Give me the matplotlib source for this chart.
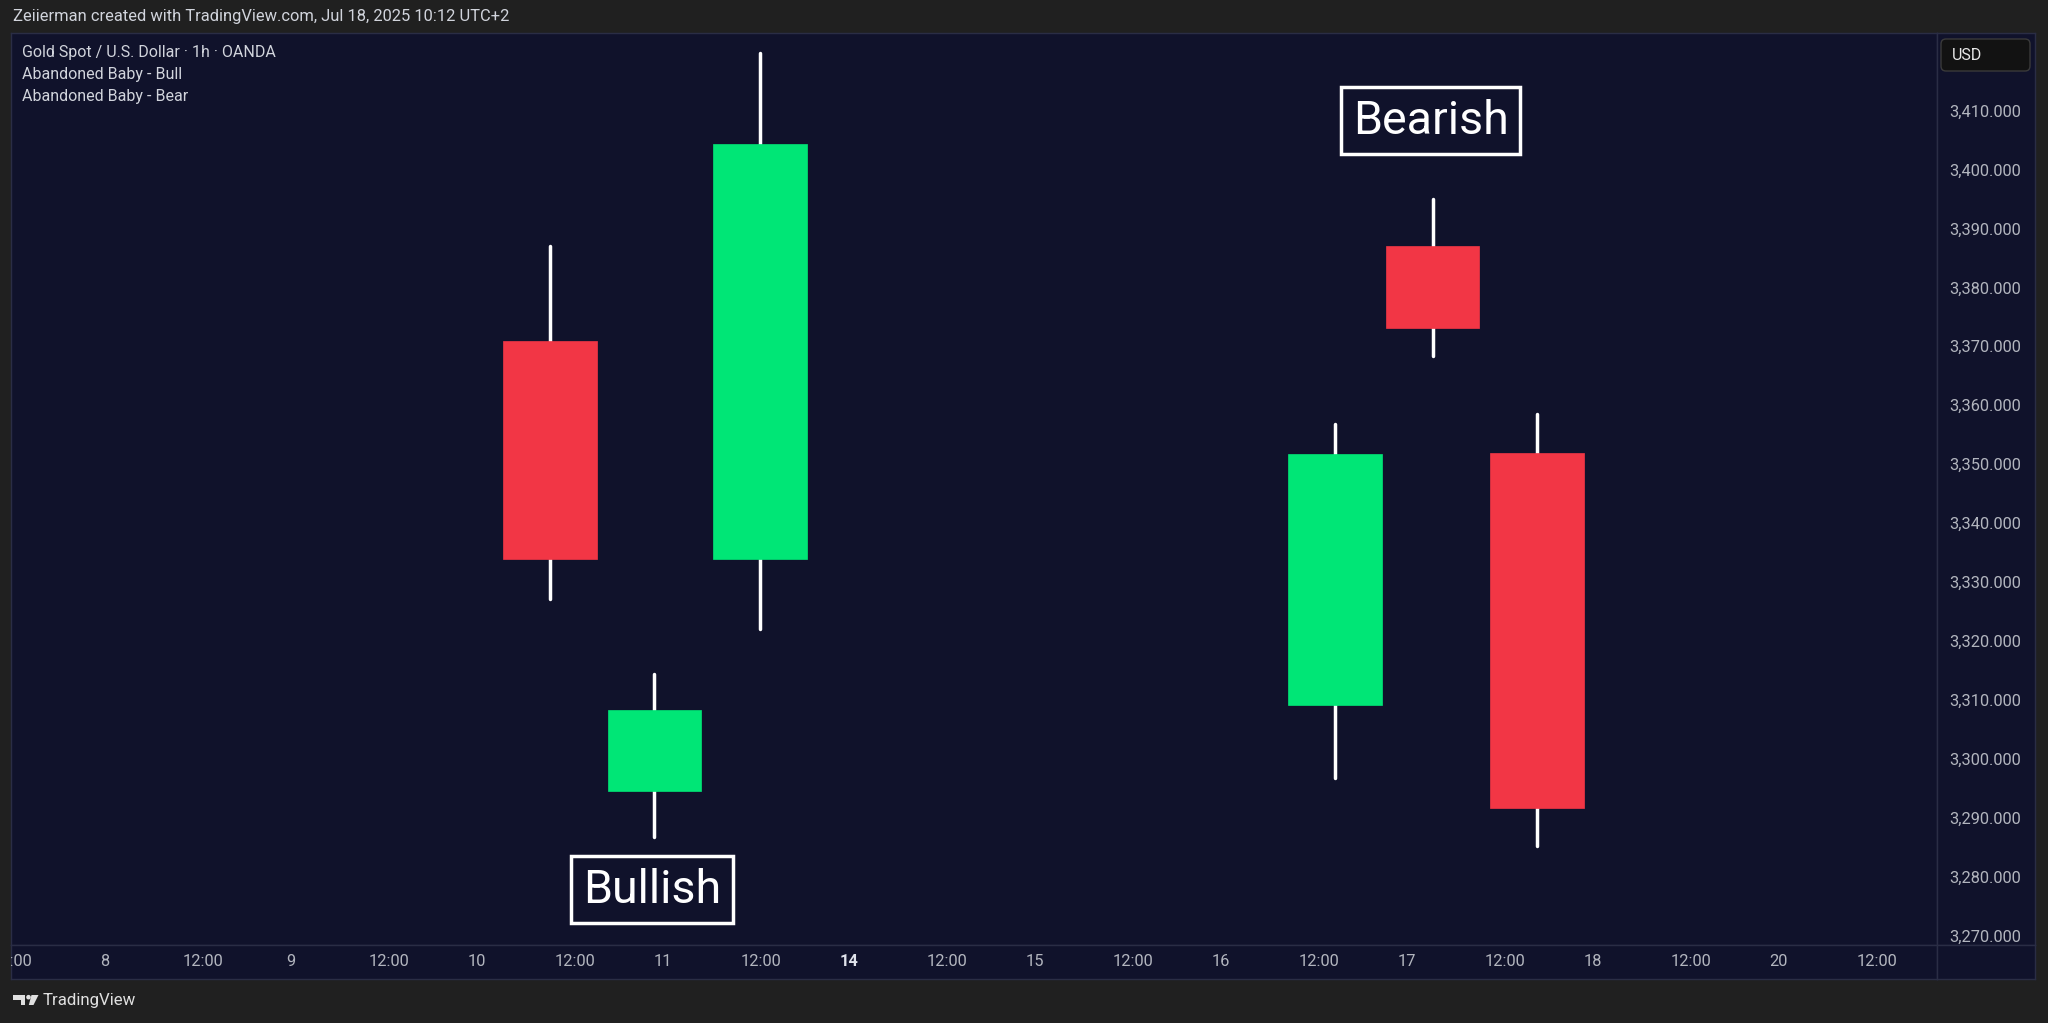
import matplotlib
matplotlib.use("Agg")
import matplotlib.pyplot as plt
from matplotlib.patches import Rectangle, Polygon, Circle, FancyBboxPatch
from matplotlib.transforms import blended_transform_factory, Affine2D

plt.rcParams['font.family'] = ['Roboto', 'DejaVu Sans']

# candle data: x in hours from Jul 8 00:00
hours = [57.4, 70.9, 84.5, 158.7, 171.3, 184.8]
opens = [3371.2, 3294.8, 3334.2, 3309.4, 3387.2, 3352.2]
closes = [3334.2, 3308.5, 3404.5, 3352.0, 3373.4, 3291.9]
highs = [3387.2, 3314.7, 3420.0, 3357.1, 3395.2, 3358.8]
lows = [3327.4, 3287.0, 3322.3, 3297.0, 3368.6, 3285.5]

price_ticks = list(range(3270, 3411, 10))
time_ticks = [-12, 0, 12, 24, 36, 48, 60, 72, 84, 96, 108, 120, 132, 144,
              156, 168, 180, 192, 204, 216, 228]
time_labels = ['12:00', '8', '12:00', '9', '12:00', '10', '12:00', '11', '12:00',
               '14', '12:00', '15', '12:00', '16', '12:00', '17', '12:00', '18',
               '12:00', '20', '12:00']

labels = ['Bullish', 'Bearish']
label_x = [70.6, 171.1]
label_y = [3278.1, 3408.5]

W, H = 2048, 1023
BG = '#202020'
PANEL = '#10122b'
BORDER = '#2a2d45'
GREEN = '#00e676'
RED = '#f23645'
TXT = '#d1d4dc'
AXTXT = '#b2b5be'

fig = plt.figure(figsize=(W / 100, H / 100), dpi=100, facecolor=BG)


def px_axes(x0, y0, x1, y1, **kw):
    a = fig.add_axes([x0 / W, 1 - y1 / H, (x1 - x0) / W, (y1 - y0) / H], **kw)
    a.set_facecolor(PANEL)
    a.set_xticks([])
    a.set_yticks([])
    for s in a.spines.values():
        s.set_color(BORDER)
        s.set_linewidth(1)
    return a


ax = px_axes(11, 33, 1937, 945)
ax_t = px_axes(11, 945, 1937, 979, sharex=ax)
ax_p = px_axes(1937, 33, 2035, 945, sharey=ax)
ax_c = px_axes(1937, 945, 2035, 979)
ax.set_xticks([])
ax.set_yticks([])

ax.set_xlim(-12.14, 236.4)
ax.set_ylim(3268.7, 3423.4)

# candles
for h, o, c, hi, lo in zip(hours, opens, closes, highs, lows):
    col = GREEN if c >= o else RED
    ax.vlines(h, lo, hi, color='white', lw=2.5, capstyle='round', zorder=2)
    ax.bar(h, abs(c - o), bottom=min(o, c), width=12.1, color=col,
           edgecolor=col, linewidth=0.5, zorder=3)

for lab, x, y in zip(labels, label_x, label_y):
    ax.text(x, y, lab, ha='center', va='center', fontsize=33.5, color='white', zorder=5,
            bbox=dict(boxstyle='square,pad=0.25', fc=PANEL, ec='white', lw=2.5))

# price scale
tp = blended_transform_factory(ax_p.transAxes, ax_p.transData)
for p in price_ticks:
    ax_p.text(0.86, p, f'{p:,.3f}', transform=tp, ha='right', va='center',
              fontsize=11.8, color=AXTXT)

# time scale (the 12:00 labels sit a little right of the tick in the reference)
tt = blended_transform_factory(ax_t.transData, ax_t.transAxes)
for t, lab in zip(time_ticks, time_labels):
    bold = lab == '14'
    shift = 0.6 if (lab == '12:00' and t > 0) else 0
    ax_t.text(t + shift, 0.5, lab, transform=tt, ha='center', va='center', clip_on=True,
              fontsize=11.8, color='#e0e3eb' if bold else AXTXT,
              fontweight='bold' if bold else 'normal')

# pixel transform for figure decorations (y measured from top)
pxt = Affine2D().scale(1 / W, -1 / H).translate(0, 1) + fig.transFigure

usd = FancyBboxPatch((1941, 39), 89, 32, boxstyle='round,pad=0,rounding_size=5',
                     fc='#121212', ec='#3a3a3a', lw=1, transform=pxt)
fig.patches.append(usd)
fig.text(1952 / W, 1 - 55 / H, 'USD', ha='left', va='center', fontsize=11.5, color='#e8e8e8')

fig.text(13 / W, 1 - 17 / H, 'Zeiierman created with TradingView.com, Jul 18, 2025 10:12 UTC+2',
         ha='left', va='center', fontsize=11.9, color=TXT)
legend_lines = ['Gold Spot / U.S. Dollar · 1h · OANDA', 'Abandoned Baby - Bull',
                'Abandoned Baby - Bear']
for i, line in enumerate(legend_lines):
    fig.text(22 / W, 1 - (53 + 21.5 * i) / H, line, ha='left', va='center',
             fontsize=11.5, color=TXT)

# TradingView logo
fig.patches.append(Rectangle((13, 995), 12, 4.5, fc='#e0e0e0', transform=pxt))
fig.patches.append(Rectangle((20.5, 995), 4.5, 10, fc='#e0e0e0', transform=pxt))
fig.patches.append(Circle((28.5, 997.2), 2.3, fc='#e0e0e0', transform=pxt))
fig.patches.append(Polygon([(31.5, 995), (38.5, 995), (33.5, 1005), (28.8, 1005)],
                           closed=True, fc='#e0e0e0', transform=pxt))
fig.text(43 / W, 1 - 1000 / H, 'TradingView', ha='left', va='center', fontsize=12.2,
         color='#e0e0e0')

fig.savefig('out.png', dpi=100, facecolor=BG)
